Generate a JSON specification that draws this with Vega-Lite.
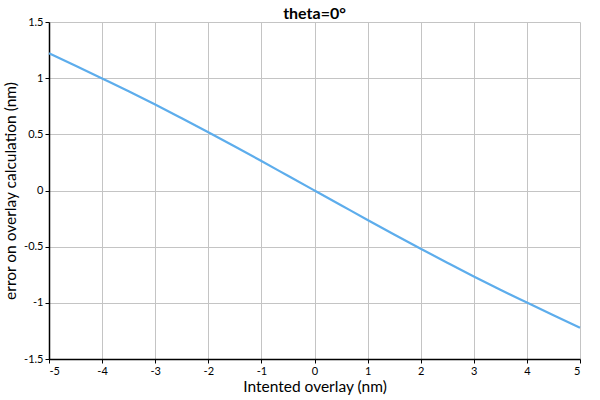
{
  "$schema": "https://vega.github.io/schema/vega-lite/v6.json",
  "autosize": "none",
  "padding": {"left": 49, "top": 22, "right": 20, "bottom": 41},
  "width": 531,
  "height": 337,
  "background": "white",
  "title": {"text": "theta=0°", "font": "Lato", "fontSize": 16, "fontWeight": "bold", "color": "black", "offset": 6, "dy": 12},
  "data": {
    "values": [
      {"x": -5, "y": 1.222}, {"x": -4.5, "y": 1.111}, {"x": -4, "y": 0.998},
      {"x": -3.5, "y": 0.884}, {"x": -3, "y": 0.766}, {"x": -2.5, "y": 0.643},
      {"x": -2, "y": 0.518}, {"x": -1.5, "y": 0.391}, {"x": -1, "y": 0.262},
      {"x": -0.5, "y": 0.131}, {"x": 0, "y": 0}, {"x": 0.5, "y": -0.131},
      {"x": 1, "y": -0.262}, {"x": 1.5, "y": -0.391}, {"x": 2, "y": -0.518},
      {"x": 2.5, "y": -0.643}, {"x": 3, "y": -0.766}, {"x": 3.5, "y": -0.884},
      {"x": 4, "y": -0.998}, {"x": 4.5, "y": -1.111}, {"x": 5, "y": -1.222}
    ]
  },
  "mark": {"type": "line", "color": "#5DADEC", "strokeWidth": 2.2, "interpolate": "monotone"},
  "encoding": {
    "x": {
      "field": "x", "type": "quantitative",
      "scale": {"domain": [-5, 5], "nice": false, "zero": false},
      "axis": {"values": [-5, -4, -3, -2, -1, 0, 1, 2, 3, 4, 5], "title": "Intented overlay (nm)", "labelExpr": "'' + datum.value"}
    },
    "y": {
      "field": "y", "type": "quantitative",
      "scale": {"domain": [-1.5, 1.5], "nice": false, "zero": false},
      "axis": {"values": [-1.5, -1, -0.5, 0, 0.5, 1, 1.5], "title": "error on overlay calculation (nm)", "labelExpr": "'' + datum.value"}
    }
  },
  "config": {
    "view": {"stroke": null},
    "axis": {
      "domainColor": "black",
      "domainWidth": 1.5,
      "tickColor": "black",
      "tickSize": 4,
      "gridColor": "#c4c4c4",
      "gridWidth": 1,
      "labelFont": "Lato",
      "labelFontSize": 11,
      "labelColor": "black",
      "titleFont": "Lato",
      "titleFontSize": 15.5,
      "titleFontWeight": "normal",
      "titleColor": "black",
      "labelPadding": 2
    },
    "axisX": {"titlePadding": 3},
    "axisY": {"titlePadding": 5}
  }
}
